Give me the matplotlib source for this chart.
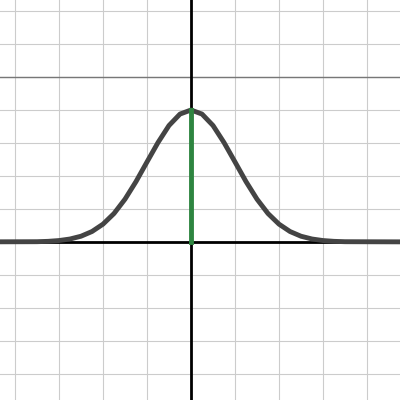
import matplotlib
matplotlib.use("Agg")
import matplotlib.pyplot as plt

# curve samples (right half, mirrored)
half_x = [0, 0.25, 0.5, 0.75, 1, 1.25, 1.5, 1.75, 2, 2.25, 2.5, 2.75, 3, 3.25, 3.5, 6]
half_y = [4.0, 3.877, 3.53, 3.014, 2.426, 1.831, 1.298, 0.863, 0.541, 0.318,
          0.175, 0.091, 0.044, 0.02, 0.009, 0.0]
curve_x = [-v for v in half_x[::-1]] + half_x[1:]
curve_y = half_y[::-1] + half_y[1:]
peak_height = 4.0
hline_y = 5.0

fig = plt.figure(figsize=(4, 4), dpi=100)
ax = fig.add_axes([0, 0, 1, 1])
ax.set_xlim(-191 / 44, 209 / 44)
ax.set_ylim(-158 / 33, 242 / 33)

for gx in range(-5, 6):
    ax.axvline(gx, color="#cccccc", lw=0.8, zorder=0)
for gy in range(-5, 8):
    ax.axhline(gy, color="#cccccc", lw=0.8, zorder=0)

ax.axhline(0, color="black", lw=2, zorder=2)
ax.axvline(0, color="black", lw=2, zorder=2)
ax.axhline(hline_y, color="#777777", lw=1, zorder=1)

ax.plot(curve_x, curve_y, color="#444444", lw=3.5, zorder=3, solid_capstyle="round")
ax.plot([0, 0], [0, peak_height], color="#2e8540", lw=3.5, zorder=4)

ax.set_xticks([])
ax.set_yticks([])
for s in ax.spines.values():
    s.set_visible(False)

fig.savefig("out.png", dpi=100)
